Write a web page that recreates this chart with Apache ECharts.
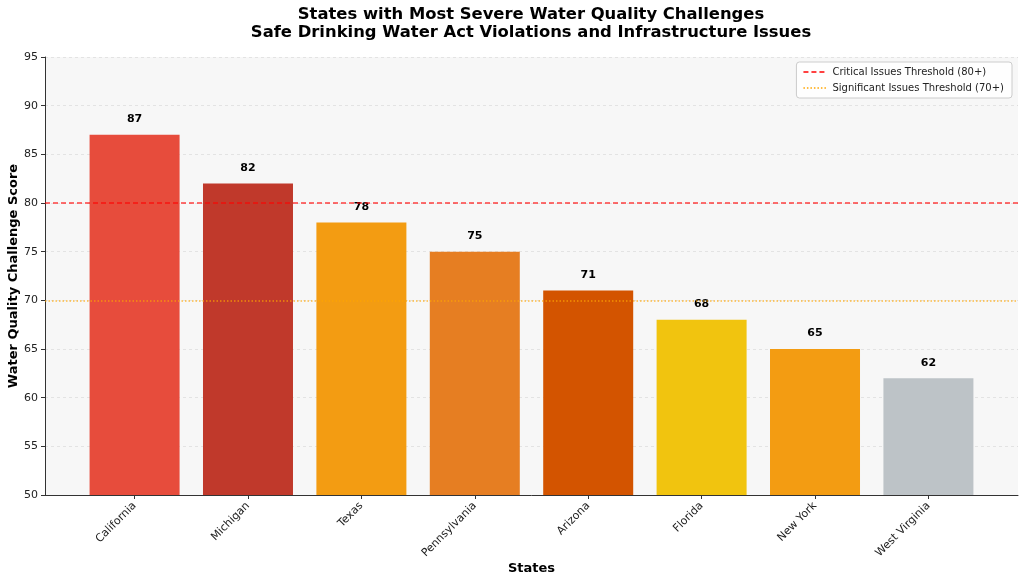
<!DOCTYPE html>
<html>
<head>
<meta charset="utf-8">
<script src="https://cdn.jsdelivr.net/npm/echarts@6/dist/echarts.min.js"></script>
<style>
  html, body { margin: 0; padding: 0; background: #fff; }
  #chart { width: 1024px; height: 582px; }
</style>
</head>
<body>
<div id="chart"></div>
<script>
const states = ["California", "Michigan", "Texas", "Pennsylvania", "Arizona", "Florida", "New York", "West Virginia"];
const scores = [87, 82, 78, 75, 71, 68, 65, 62];
const barColors = ["#e74c3c", "#c0392b", "#f39c12", "#e67e22", "#d35400", "#f1c40f", "#f39c12", "#bdc3c7"];
const yTicks = [50, 55, 60, 65, 70, 75, 80, 85, 90, 95];
const criticalLevel = 80;
const significantLevel = 70;

const font = "DejaVu Sans";
const chart = echarts.init(document.getElementById("chart"));

const tickPositions = states.map((s, i) => i);

chart.setOption({
  animation: false,
  textStyle: { fontFamily: font },
  title: {
    text: "States with Most Severe Water Quality Challenges\nSafe Drinking Water Act Violations and Infrastructure Issues",
    left: 526, top: 1, textAlign: "center",
    textStyle: { fontSize: 16.4, fontWeight: "bold", color: "#000", lineHeight: 17.5, fontFamily: font },
  },
  legend: {
    right: 12, top: 62, orient: "vertical",
    itemWidth: 24, itemHeight: 10, itemGap: 6,
    backgroundColor: "rgba(255,255,255,0.8)",
    borderColor: "#cccccc", borderWidth: 1, borderRadius: 3,
    padding: [5, 8, 5, 6],
    itemStyle: { opacity: 0 },
    textStyle: { fontSize: 10, color: "#222", fontFamily: font },
    data: ["Critical Issues Threshold (80+)", "Significant Issues Threshold (70+)"],
  },
  grid: {
    left: 45, right: 6, top: 57, bottom: 87,
    outerBoundsMode: "none",
    show: true, backgroundColor: "#f7f7f7", borderWidth: 0,
  },
  xAxis: {
    type: "value", min: -0.79, max: 7.79,
    name: "States", nameLocation: "middle", nameGap: 67, nameMoveOverlap: false,
    nameTextStyle: { fontSize: 13, fontWeight: "bold", color: "#000", fontFamily: font },
    axisLine: { show: true, onZero: false, lineStyle: { color: "#333" } },
    axisTick: { show: true, length: 4, customValues: tickPositions, lineStyle: { color: "#333" } },
    axisLabel: {
      customValues: tickPositions, rotate: 45, fontSize: 11, color: "#222", margin: 9,
      formatter: (v) => states[Math.round(v)] || "",
    },
    splitLine: { show: false },
  },
  yAxis: {
    type: "value", min: yTicks[0], max: yTicks[yTicks.length - 1], interval: 5,
    name: "Water Quality Challenge Score", nameLocation: "middle", nameGap: 25, nameMoveOverlap: false,
    nameTextStyle: { fontSize: 13, fontWeight: "bold", color: "#000", fontFamily: font },
    axisLine: { show: true, onZero: false, lineStyle: { color: "#333" } },
    axisTick: { show: true, length: 4, lineStyle: { color: "#333" } },
    axisLabel: { fontSize: 11, color: "#222", margin: 7 },
    splitLine: { show: true, lineStyle: { color: "#dddddd", type: [3, 3], width: 0.8 } },
  },
  series: [
    {
      type: "bar",
      barWidth: 90,
      data: scores.map((v, i) => ({ value: [i, v], itemStyle: { color: barColors[i] } })),
      label: {
        show: true, position: "top", distance: 10,
        fontSize: 11, fontWeight: "bold", color: "#000",
        formatter: (p) => p.value[1],
      },
      z: 2,
    },
    {
      name: "Critical Issues Threshold (80+)",
      type: "line", data: [], symbol: "none",
      itemStyle: { color: "rgba(255,0,0,0.75)" },
      lineStyle: { color: "rgba(255,0,0,0.75)", type: [5, 3], width: 1.5 },
      markLine: {
        silent: true, symbol: "none", label: { show: false },
        lineStyle: { color: "rgba(255,0,0,0.75)", type: [5, 3], width: 1.5 },
        data: [{ yAxis: criticalLevel }],
      },
      z: 3,
    },
    {
      name: "Significant Issues Threshold (70+)",
      type: "line", data: [], symbol: "none",
      itemStyle: { color: "rgba(255,165,0,0.75)" },
      lineStyle: { color: "rgba(255,165,0,0.75)", type: [1.5, 2], width: 1.5 },
      markLine: {
        silent: true, symbol: "none", label: { show: false },
        lineStyle: { color: "rgba(255,165,0,0.75)", type: [1.5, 2], width: 1.5 },
        data: [{ yAxis: significantLevel }],
      },
      z: 3,
    },
  ],
});
</script>
</body>
</html>
